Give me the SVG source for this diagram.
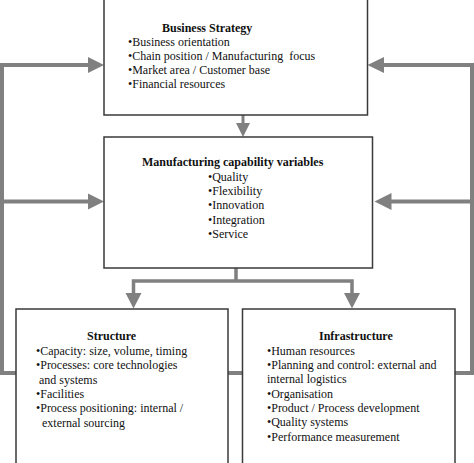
<svg xmlns="http://www.w3.org/2000/svg" width="474" height="463" viewBox="0 0 474 463">
<style>
.box{fill:#fff;stroke:#3a3a3a;stroke-width:1.5}
.ln{fill:none;stroke:#808080;stroke-linejoin:miter}
.ah{fill:#808080}
text{font-family:"Liberation Serif","Times New Roman",serif;font-size:12px;fill:#111;white-space:pre}
.t{font-weight:bold}
</style>
<g id="connectors">
<path class="ln" stroke-width="4" d="M89,65 H2 V373 H472 V65 H384"/>
<path class="ln" stroke-width="4" d="M2,201.5 H89 M472,201.5 H391"/>
<polygon class="ah" points="104,65 88,57 88,73"/>
<polygon class="ah" points="367.5,65 384,57 384,73"/>
<polygon class="ah" points="104,201.5 88,193.5 88,209.5"/>
<polygon class="ah" points="374.5,201.5 391.5,193 391.5,210"/>
<path class="ln" stroke-width="3" d="M243,115 V124"/>
<polygon class="ah" points="243,137 236,123 250,123"/>
<path class="ln" stroke-width="3.5" d="M236,268 V281 M133.5,294 V281 H352 V294"/>
<polygon class="ah" points="133.5,308.5 125.5,293 141.5,293"/>
<polygon class="ah" points="352,308.5 344,293 360,293"/>
</g>
<g id="business-strategy">
<rect class="box" x="104" y="-5" width="263.5" height="120"/>
<text class="t" x="162" y="32">Business Strategy</text>
<text x="128" y="46">•Business orientation</text>
<text x="128" y="60">•Chain position / Manufacturing  focus</text>
<text x="128" y="74.2">•Market area / Customer base</text>
<text x="128" y="88.4">•Financial resources</text>
</g>
<g id="manufacturing-capability">
<rect class="box" x="104" y="137" width="268.5" height="131"/>
<text class="t" x="142" y="166">Manufacturing capability variables</text>
<text x="208" y="180.6">•Quality</text>
<text x="208" y="195">•Flexibility</text>
<text x="208" y="209.4">•Innovation</text>
<text x="208" y="223.8">•Integration</text>
<text x="208" y="238.2">•Service</text>
</g>
<g id="structure">
<rect class="box" x="16" y="309" width="212" height="160"/>
<text class="t" x="87" y="340">Structure</text>
<text x="36" y="355">•Capacity: size, volume, timing</text>
<text x="36" y="369.3">•Processes: core technologies</text>
<text x="36" y="383.6"> and systems</text>
<text x="36" y="397.9">•Facilities</text>
<text x="36" y="412.2">•Process positioning: internal /</text>
<text x="36" y="426.5">  external sourcing</text>
</g>
<g id="infrastructure">
<rect class="box" x="242.5" y="309" width="212.5" height="160"/>
<text class="t" x="319" y="340">Infrastructure</text>
<text x="267" y="354.7">•Human resources</text>
<text x="267" y="369">•Planning and control: external and</text>
<text x="267" y="383.3">internal logistics</text>
<text x="267" y="397.6">•Organisation</text>
<text x="267" y="411.9">•Product / Process development</text>
<text x="267" y="426.2">•Quality systems</text>
<text x="267" y="440.5">•Performance measurement</text>
</g>
</svg>
